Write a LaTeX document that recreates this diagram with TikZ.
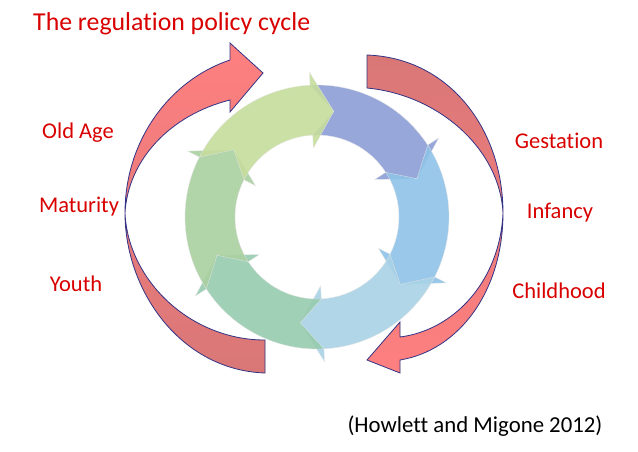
\documentclass[tikz,border=0pt]{standalone}
\usepackage{fontspec}
\setmainfont[Ligatures=NoCommon]{Carlito}
\begin{document}
\begin{tikzpicture}[x=1pt,y=-1pt,
  lbl/.style={text=red!85!black,font=\fontsize{22.5}{26}\selectfont,inner sep=0},
  redarrow/.style={draw=blue!40!black!80,line width=0.8pt},
  seg/.style={fill opacity=0.9,draw=white!80!gray,line width=0.3pt}]
\useasboundingbox (0,0) rectangle (638,451);
\fill[white] (0,0) rectangle (638,451);
\node[lbl,anchor=west,font=\fontsize{25.8}{30}\selectfont] (title) at (33,24) {The regulation policy cycle};
\node[lbl] (old) at (78,133) {Old Age};
\node[lbl] (mat) at (79,207) {Maturity};
\node[lbl] (you) at (76,284) {Youth};
\node[lbl] (ges) at (559,141) {Gestation};
\node[lbl] (inf) at (560,213) {Infancy};
\node[lbl] (chi) at (559,291) {Childhood};
\node[inner sep=0,font=\fontsize{22.8}{26}\selectfont] (cite) at (475,426) {(Howlett and Migone 2012)};
% left red arrow
\shade[redarrow,top color=red!50!white,bottom color=red!45!white!85!black]
 (265,373) .. controls (180,370) and (125,290) .. (125,213)
 .. controls (125,140) and (170,80) .. (230,60) -- (230,43) -- (263,73) -- (230,112) -- (230,100)
 .. controls (170,115) and (128,160) .. (125,213)
 .. controls (128,280) and (190,340) .. (265,340) -- cycle;
% right red arrow
\shade[redarrow,top color=red!45!white!85!black,bottom color=red!50!white]
 (367,55) .. controls (450,58) and (503,130) .. (503,213)
 .. controls (503,290) and (460,350) .. (400,360) -- (400,373) -- (367,360) -- (400,322) -- (400,337)
 .. controls (455,330) and (500,280) .. (503,213)
 .. controls (500,150) and (440,95) .. (367,88) -- cycle;
% ring
\begin{scope}[shift={(317,217)},y=1pt]
\foreach \s/\c in {33/8C9ED5,-27/8EC3E8,-87/A8D2E6,-147/96CBAE,153/A9D0A0,93/C6DD9C}{
  \definecolor{segc}{HTML}{\c}
  \fill[seg,fill=segc] (\s+60:132) arc[start angle=\s+60,end angle=\s,radius=132]
   -- (\s:145) -- (\s-12:107) -- (\s:69) -- (\s:82)
   arc[start angle=\s,end angle=\s+60,radius=82] -- (\s+48:107) -- cycle;
}
\end{scope}
\end{tikzpicture}
\end{document}
